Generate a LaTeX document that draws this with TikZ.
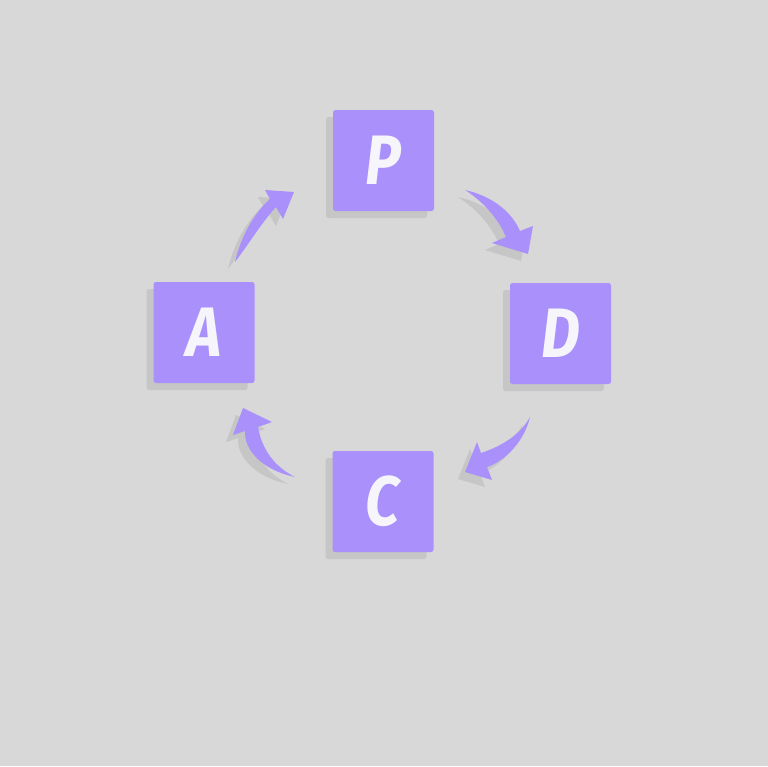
\documentclass[tikz,border=0pt]{standalone}
\usepackage{fontspec}
\usetikzlibrary{shadows}
\newfontfamily\phasefont[FakeStretch=0.86]{Fira Sans}
\definecolor{bgcol}{HTML}{D8D8D8}
\definecolor{phasecol}{HTML}{AA90FA}
\definecolor{shadecol}{HTML}{C6C6C6}
\definecolor{lettercol}{HTML}{F7F5FC}

\tikzset{
  phase/.style={rectangle, fill=phasecol, minimum size=101pt, inner sep=0pt,
    rounded corners=2.5pt, text=lettercol,
    font=\phasefont\bfseries\itshape\fontsize{70}{70}\selectfont,
    drop shadow={shadow xshift=-7pt, shadow yshift=-7pt, fill=shadecol, opacity=1}},
  % bent arrows between the phases
  arrowPD/.pic={
    \fill (465,190) .. controls (492,196) and (512,212) .. (520,231)
      -- (533,226) -- (528,254) -- (492,243) -- (506,237)
      .. controls (499,220) and (484,202) .. (465,190) -- cycle;
  },
  arrowDC/.pic={
    \fill (530,417) .. controls (520,435) and (502,446) .. (481,453)
      -- (477,442) -- (465,472) -- (492,480) -- (487,467)
      .. controls (505,461) and (524,442) .. (530,417) -- cycle;
  },
  arrowCA/.pic={
    \fill (295,477) .. controls (275,467) and (262,450) .. (258,427)
      -- (272,422) -- (243,408) -- (233,435) -- (245,431)
      .. controls (244,450) and (262,470) .. (295,477) -- cycle;
  },
  arrowAP/.pic={
    \fill (235,262) .. controls (240,240) and (252,215) .. (270,199)
      -- (265,190) -- (294,192) -- (283,219) -- (276,207)
      .. controls (262,222) and (246,248) .. (235,262) -- cycle;
  },
}

\begin{document}
\begin{tikzpicture}[x=1pt, y=-1pt]
\fill[bgcol] (0,0) rectangle (768,766);

% the four phases
\node[phase] (plan)  at (383.5,160.5) {P};
\node[phase] (do)    at (560.5,333.5) {D};
\node[phase] (check) at (383,501.5)   {C};
\node[phase] (act)   at (204,332.5)   {A};

% arrows, shadow first
\pic[fill=shadecol] at (-7,7) {arrowPD};
\pic[fill=phasecol] at (0,0)  {arrowPD};
\pic[fill=shadecol] at (-7,7) {arrowDC};
\pic[fill=phasecol] at (0,0)  {arrowDC};
\pic[fill=shadecol] at (-7,7) {arrowCA};
\pic[fill=phasecol] at (0,0)  {arrowCA};
\pic[fill=shadecol] at (-7,7) {arrowAP};
\pic[fill=phasecol] at (0,0)  {arrowAP};
\end{tikzpicture}
\end{document}
